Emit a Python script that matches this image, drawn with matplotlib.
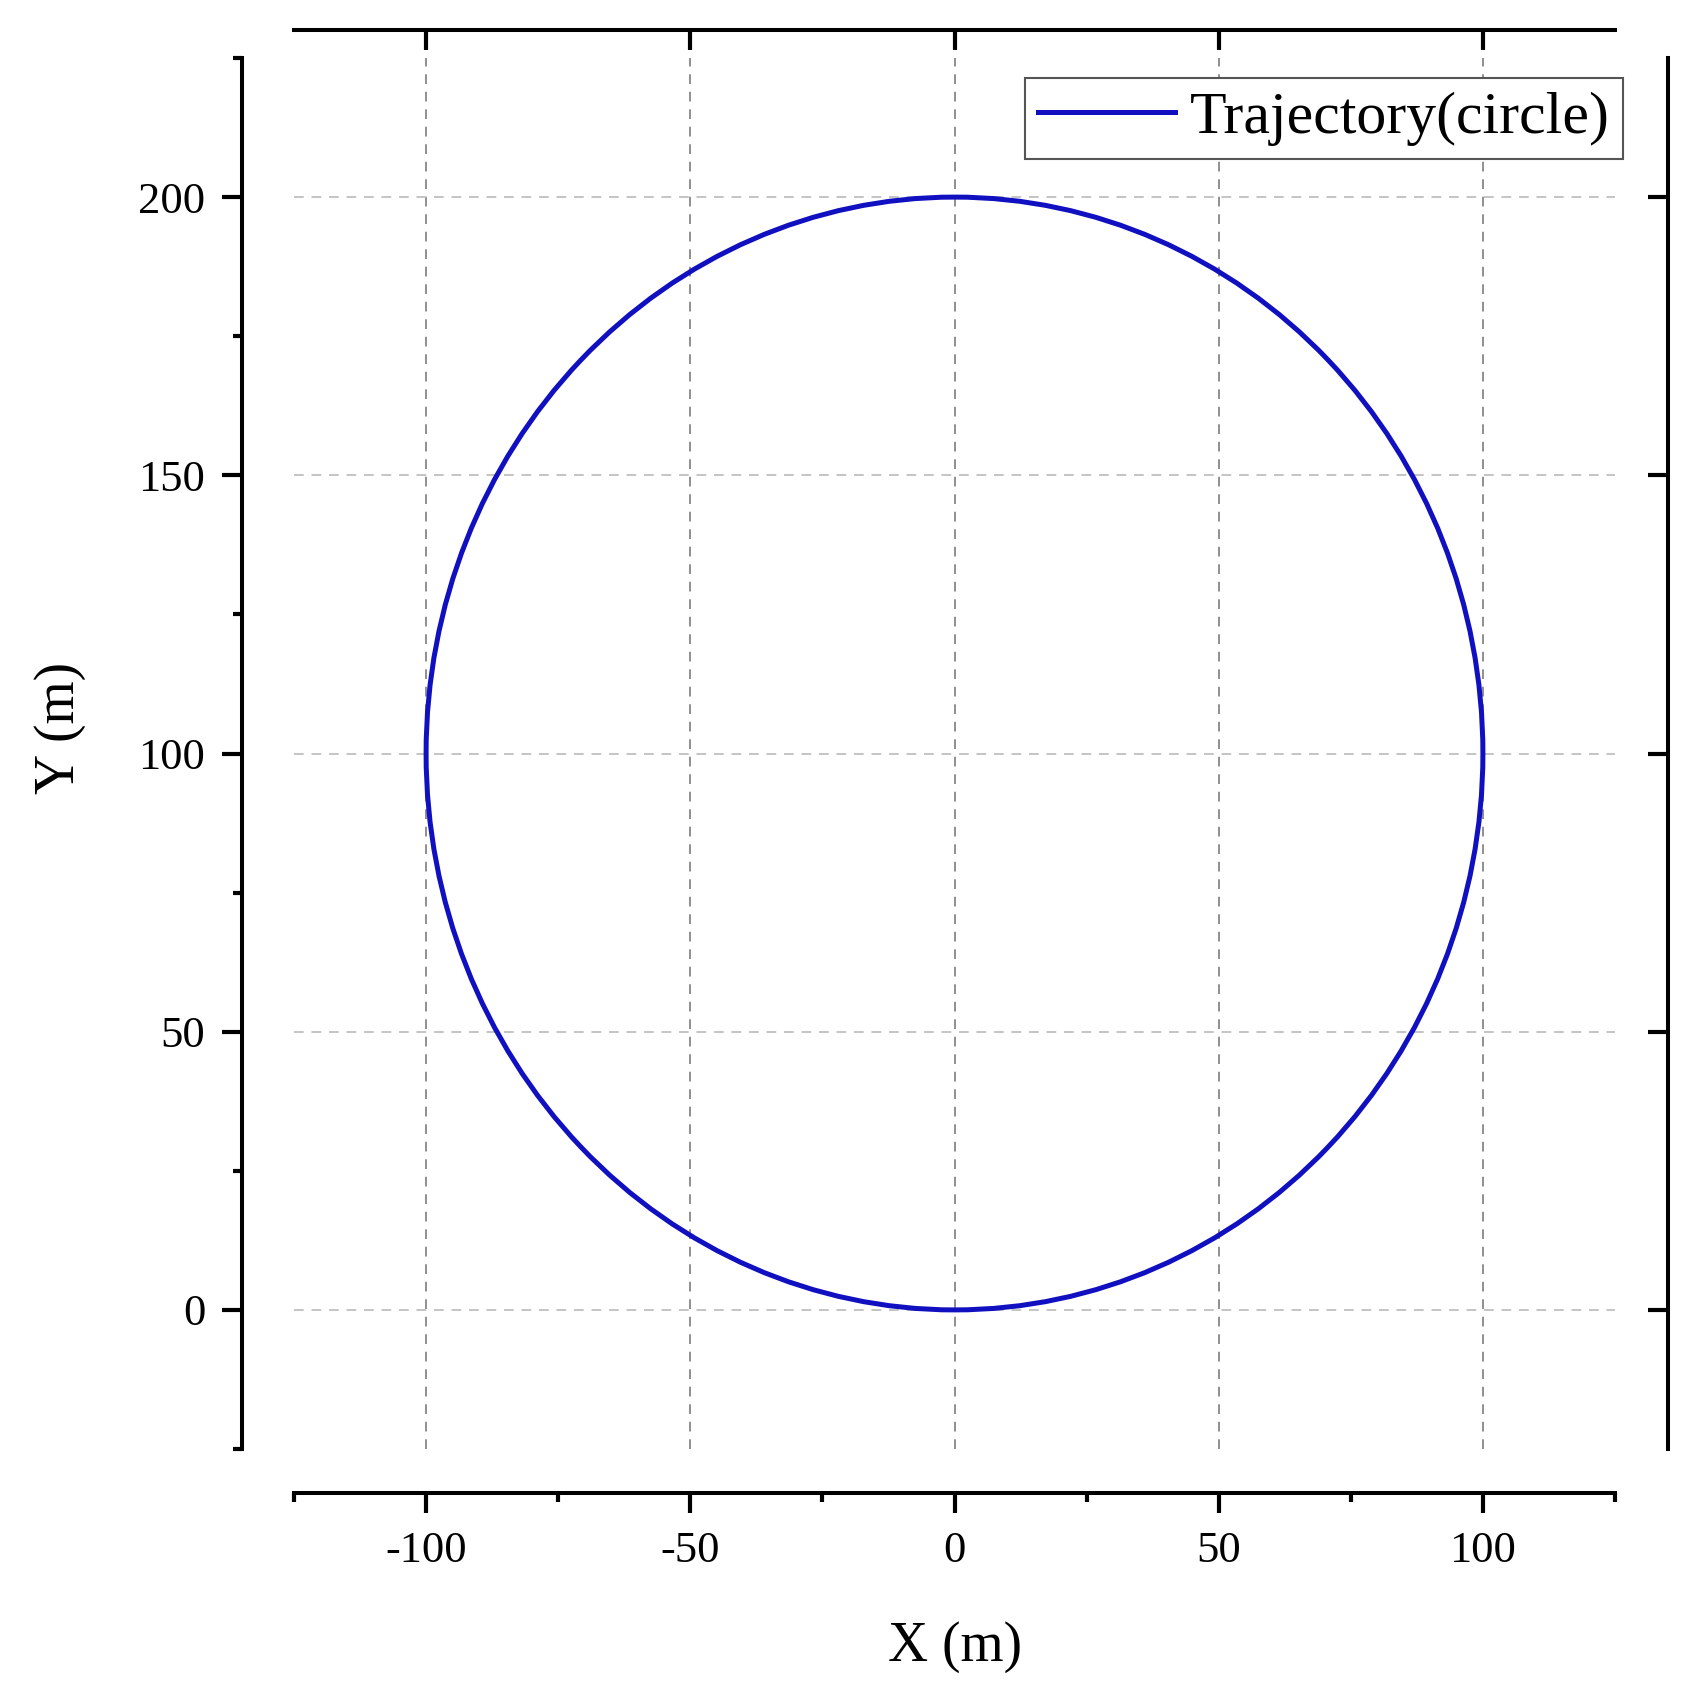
import matplotlib
matplotlib.use("Agg")
import matplotlib.pyplot as plt
from matplotlib.patches import Ellipse
from matplotlib.lines import Line2D
from matplotlib.ticker import MultipleLocator

# ---- data ----
circle_center_x = [0.0]
circle_center_y = [100.0]
circle_radius = [100.0]
series_label = ["Trajectory(circle)"]
x_ticks = [-100, -50, 0, 50, 100]
y_ticks = [0, 50, 100, 150, 200]
x_limits = [-125, 125]
y_limits = [-25, 225]
x_label = "X (m)"
y_label = "Y (m)"

plt.rcParams['font.family'] = ['Liberation Serif', 'DejaVu Serif']
plt.rcParams['axes.unicode_minus'] = False

W, H, DPI = 1700, 1707, 100
fig = plt.figure(figsize=(W / DPI, H / DPI), dpi=DPI)
ax = fig.add_axes([294 / W, 1 - 1449 / H, 1321 / W, 1391 / H])

line_color = '#1010C0'
for cx, cy, r in zip(circle_center_x, circle_center_y, circle_radius):
    ax.add_patch(Ellipse((cx, cy), 2 * r, 2 * r, fill=False,
                         edgecolor=line_color, linewidth=3.6, zorder=3))

ax.set_xlim(*x_limits)
ax.set_ylim(*y_limits)
ax.set_xticks(x_ticks)
ax.set_yticks(y_ticks)
ax.xaxis.set_minor_locator(MultipleLocator(25))
ax.yaxis.set_minor_locator(MultipleLocator(25))

# spines offset (Origin style)
px = 72 / DPI
ax.spines['left'].set_position(('outward', 52 * px))
ax.spines['right'].set_position(('outward', 53 * px))
ax.spines['top'].set_position(('outward', 28 * px))
ax.spines['bottom'].set_position(('outward', 44 * px))
for s in ax.spines.values():
    s.set_linewidth(2.9)
    s.set_color('black')

ax.tick_params(axis='both', which='major', labelsize=32, width=3.0,
               length=20 * px, color='black')
ax.tick_params(axis='both', which='minor', width=3.0, length=9 * px)
ax.tick_params(axis='x', which='both', bottom=True, top=True,
               labelbottom=True, labeltop=False, pad=13)
ax.tick_params(axis='x', which='minor', top=False)
ax.tick_params(axis='y', which='both', left=True, right=True,
               labelleft=True, labelright=False, pad=12)
ax.tick_params(axis='y', which='minor', right=False)

# bottom/left ticks outward, top/right ticks inward
for t in ax.xaxis.get_major_ticks():
    t.tick1line.set_marker(3)
    t.tick2line.set_marker(3)
for t in ax.xaxis.get_minor_ticks():
    t.tick1line.set_marker(3)
for t in ax.yaxis.get_major_ticks():
    t.tick1line.set_marker(0)
    t.tick2line.set_marker(0)
for t in ax.yaxis.get_minor_ticks():
    t.tick1line.set_marker(0)

ax.grid(False)
for xv in x_ticks:
    ax.axvline(xv, color='#8f8f8f', linewidth=1.4, linestyle=(0, (5, 4)), zorder=1)
for yv in y_ticks:
    ax.axhline(yv, color='#c4c4c4', linewidth=1.4, linestyle=(0, (5, 4)), zorder=1)

ax.set_xlabel(x_label, fontsize=40)
ax.set_ylabel(y_label, fontsize=40)
ax.xaxis.set_label_coords(955 / W, 1 - 1647 / H, transform=fig.transFigure)
ax.yaxis.set_label_coords(60 / W, 1 - 728 / H, transform=fig.transFigure)
ax.xaxis.label.set_va('center')
ax.yaxis.label.set_va('center')

handle = Line2D([], [], color=line_color, linewidth=3.6)
leg = fig.legend([handle], series_label, loc='upper right',
                 bbox_to_anchor=(1623 / W, 1 - 78 / H), fontsize=43,
                 frameon=True, fancybox=False, shadow=False, framealpha=1,
                 edgecolor='#555555', borderpad=0.22, handlelength=2.3,
                 handletextpad=0.25, borderaxespad=0)
leg.get_frame().set_linewidth(1.5)

fig.savefig('out.png', dpi=DPI, facecolor='white')
